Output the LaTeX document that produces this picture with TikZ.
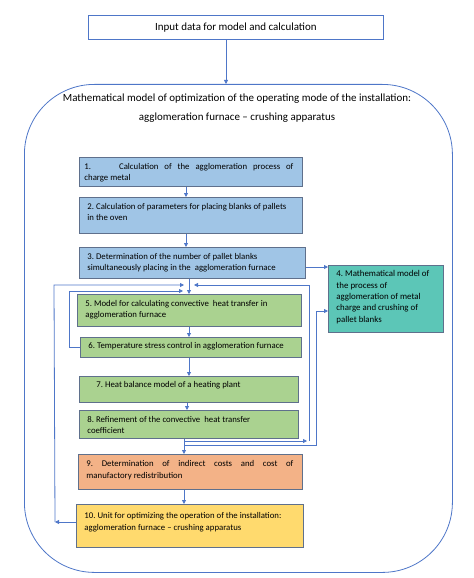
\documentclass[tikz,border=0pt]{standalone}
\usepackage{fontspec}
\setmainfont{Carlito}
\usetikzlibrary{arrows.meta}
\frenchspacing
\definecolor{lineblue}{RGB}{78,118,200}
\definecolor{edgec}{RGB}{95,112,140}
\definecolor{fblue}{RGB}{160,197,230}
\definecolor{fteal}{RGB}{92,198,183}
\definecolor{fgreen}{RGB}{170,210,144}
\definecolor{fsalmon}{RGB}{243,178,135}
\definecolor{fyellow}{RGB}{255,218,110}
% #1 height, #2 width, #3 top pad, #4 left pad, #5 right pad, #6 text
\newcommand\bj[6]{\parbox[c][#1bp][t]{#2bp}{\frenchspacing\vspace*{#3bp}\leftskip=#4bp\rightskip=#5bp\noindent #6\par}}
\newcommand\br[6]{\parbox[c][#1bp][t]{#2bp}{\frenchspacing\vspace*{#3bp}\leftskip=#4bp\rightskip=#5bp plus 5em\noindent #6\par}}
\begin{document}
\begin{tikzpicture}[x=1bp,y=-1bp,
  box/.style={draw=edgec, line width=0.9bp, anchor=north west, inner sep=0pt,
     font=\fontsize{8.8}{11.5}\selectfont},
  conn/.style={draw=lineblue, line width=0.8bp},
  arr/.style={conn, -{Triangle[length=4bp,width=4bp]}}]
\useasboundingbox (0,0) rectangle (474,578);
% frame
\node[draw=lineblue, line width=0.8bp, rounded corners=70bp, minimum width=428bp, minimum height=488bp, anchor=north west, inner sep=0pt] (frame) at (24,84) {};
\node[draw=lineblue, line width=0.8bp, minimum width=295bp, minimum height=24bp, anchor=north west, inner sep=0pt, font=\fontsize{11}{13}\selectfont] (input) at (88,15) {Input data for model and calculation};
\node[align=center, font=\fontsize{11}{19}\selectfont, inner sep=0pt, anchor=north] (title) at (237,93.5) {Mathematical model of optimization of the operating mode of the installation:\\agglomeration furnace -- crushing apparatus};
% boxes
\node[box, fill=fblue] (n1) at (79,157) {\bj{29}{223}{6}{5}{9}{1.\hspace{28bp}Calculation of the agglomeration process of\linebreak charge metal}};
\node[box, fill=fblue] (n2) at (79,197) {\br{36}{223}{6}{8}{4}{2. Calculation of parameters for placing blanks of pallets\\in the oven}};
\node[box, fill=fblue] (n3) at (79,247) {\br{31}{226}{6}{8}{4}{3. Determination of the number of pallet blanks\\simultaneously placing in the~ agglomeration furnace}};
\node[box, fill=fteal, font=\fontsize{8.9}{11.5}\selectfont] (n4) at (328,265) {\br{67}{115}{5}{8}{2}{4. Mathematical model of\\the process of\\agglomeration of metal\\charge and crushing of\\pallet blanks}};
\node[box, fill=fgreen] (n5) at (77,294) {\br{32}{224}{6}{8}{4}{5. Model for calculating convective~ heat transfer in\\agglomeration furnace}};
\node[box, fill=fgreen] (n6) at (80,337) {\br{20}{221}{5}{8}{4}{6. Temperature stress control in agglomeration furnace}};
\node[box, fill=fgreen] (n7) at (79,376) {\br{26}{219}{5}{17}{4}{7. Heat balance model of a heating plant}};
\node[box, fill=fgreen] (n8) at (79,410) {\br{28}{219}{6}{8}{4}{8. Refinement of the convective~ heat transfer\\coefficient}};
\node[box, fill=fsalmon] (n9) at (78,454) {\bj{35}{224}{6}{8}{9}{9. Determination of indirect costs and cost of\linebreak manufactory redistribution}};
\node[box, fill=fyellow] (n10) at (76,504) {\br{43}{227}{8}{8}{4}{10. Unit for optimizing the operation of the installation:\\agglomeration furnace -- crushing apparatus}};
% coordinates
\coordinate (j5l) at (184,285);
\coordinate (j5r) at (194,285);
\coordinate (j5i) at (183,291);
\coordinate (b8a) at (184,441);
\coordinate (b8b) at (184,445);
\coordinate (r1) at (307,441);
\coordinate (lout) at (55,522);
% main flow
\draw[arr] (input.south -| 226,0) -- (frame.north -| 226,0);
\draw[arr] (n1.south -| 186,0) -- (n2.north -| 186,0);
\draw[arr] (n2.south -| 186,0) -- (n3.north -| 186,0);
\draw[arr] (n3.south -| 189,0) -- (n5.north -| 189,0);
\draw[arr] (n5.south -| 189,0) -- (n6.north -| 189,0);
\draw[arr] (n6.south -| 189,0) -- (n7.north -| 189,0);
\draw[arr] (n7.south -| 187,0) -- (n8.north -| 187,0);
\draw[arr] (n8.south -| 184,0) -- (n9.north -| 184,0);
\draw[arr] (n9.south -| 184,0) -- (n10.north -| 184,0);
\draw[arr] (n3.east |- 0,267) -- (n4.west |- 0,267);
% loops
\draw[arr] (n10.west |- lout) -- (lout);
\draw[arr] (lout) -- (54,285) -- (j5l);
\draw[arr] (n6.west |- 0,347) -- (69,347) -- (69,291) -- (j5i);
\draw[arr] (b8a) -- (r1);
\draw[arr] (r1) ++(2,0) -- (309,285) -- (j5r);
\draw[arr] (b8b) -- (316,445) -- (316,311) -- (n4.west |- 0,311);
\end{tikzpicture}
\end{document}
